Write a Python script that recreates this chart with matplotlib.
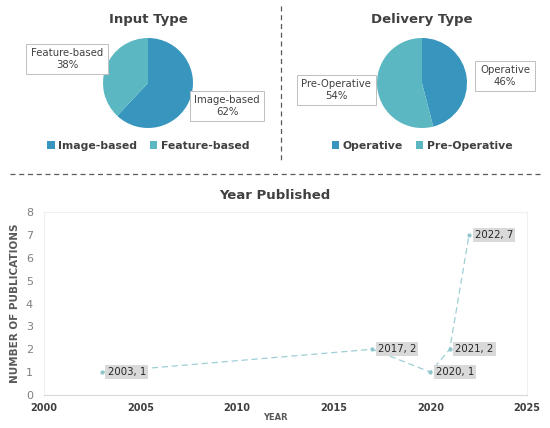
import numpy as np
import matplotlib
matplotlib.use('Agg')
import matplotlib.pyplot as plt
from matplotlib.lines import Line2D

# data
input_labels = ['Image-based', 'Feature-based']
input_share = [62, 38]
delivery_labels = ['Operative', 'Pre-Operative']
delivery_share = [46, 54]
years = [2003, 2017, 2020, 2021, 2022]
pubs = [1, 2, 1, 2, 7]

dark = '#3896BE'
light = '#5BB7C1'
W, H = 550, 428

plt.rcParams['font.family'] = ['DejaVu Sans']
fig = plt.figure(figsize=(5.5, 4.28), dpi=100)


def px(x, y):
    return x / W, 1 - y / H


def pie_axes(cx, cy, r):
    return fig.add_axes([(cx - r) / W, (H - cy - r) / H, 2 * r / W, 2 * r / H])


def box_label(x, y, s):
    fig.text(*px(x, y), s, ha='center', va='center', fontsize=7.3, color='#404040',
             linespacing=1.2,
             bbox=dict(boxstyle='square,pad=0.45', fc='white', ec='#bfbfbf', lw=0.7))


def draw_pie(ax, share):
    wedges, _ = ax.pie(share, colors=[dark, light], startangle=90, counterclock=False,
                       wedgeprops=dict(linewidth=0))
    ax.set_xlim(-1, 1)
    ax.set_ylim(-1, 1)
    ax.set_aspect('equal')
    return wedges


# Input Type pie
ax1 = pie_axes(148, 83, 45)
w1 = draw_pie(ax1, input_share)
fig.text(*px(148, 20), 'Input Type', ha='center', va='center', fontsize=9.5,
         fontweight='bold', color='#404040')
box_label(67, 59, f'{input_labels[1]}\n{input_share[1]}%')
box_label(227, 106, f'{input_labels[0]}\n{input_share[0]}%')
fig.legend(w1, input_labels, loc='center', bbox_to_anchor=px(148, 146), ncol=2,
           frameon=False, handlelength=0.7, handleheight=0.7, labelcolor='#404040',
           handletextpad=0.3, columnspacing=1.2, prop=dict(weight='bold', size=7.8))

# Delivery Type pie
ax2 = pie_axes(422, 83, 45)
w2 = draw_pie(ax2, delivery_share)
fig.text(*px(422, 20), 'Delivery Type', ha='center', va='center', fontsize=9.5,
         fontweight='bold', color='#404040')
box_label(336, 90, f'{delivery_labels[1]}\n{delivery_share[1]}%')
box_label(505, 76, f'{delivery_labels[0]}\n{delivery_share[0]}%')
fig.legend(w2, delivery_labels, loc='center', bbox_to_anchor=px(422, 146), ncol=2,
           frameon=False, handlelength=0.7, handleheight=0.7, labelcolor='#404040',
           handletextpad=0.3, columnspacing=1.2, prop=dict(weight='bold', size=7.8))

# separators
fig.add_artist(Line2D([281 / W, 281 / W], [1 - 6 / H, 1 - 160 / H], color='#595959',
                      lw=0.9, ls=(0, (4, 3))))
fig.add_artist(Line2D([10 / W, 540 / W], [1 - 174 / H, 1 - 174 / H], color='#595959',
                      lw=0.9, ls=(0, (4, 3))))

# Year Published
ax3 = fig.add_axes([44 / W, 1 - 395 / H, (527 - 44) / W, (395 - 212) / H])
ax3.plot(years, pubs, ls=(0, (5, 3)), color='#9fcfd6', lw=0.9, marker='o', ms=2,
         mfc='#8fc5cc', mec='#8fc5cc')
for x, y in zip(years, pubs):
    ax3.annotate(f'{x}, {y}', (x, y), xytext=(4, 0), textcoords='offset points',
                 ha='left', va='center', fontsize=7.3, color='#262626',
                 bbox=dict(boxstyle='square,pad=0.2', fc='#d9d9d9', ec='none'))
ax3.set_xlim(2000, 2025)
ax3.set_ylim(0, 8)
ax3.set_xticks(range(2000, 2026, 5))
ax3.set_yticks(range(0, 9))
ax3.tick_params(length=0)
ax3.tick_params(axis='x', labelsize=7, labelcolor='#404040', pad=6)
ax3.tick_params(axis='y', labelsize=8, labelcolor='#7f7f7f', pad=8)
for lbl in ax3.get_xticklabels():
    lbl.set_fontweight('bold')
for s in ['top', 'right', 'left']:
    ax3.spines[s].set_color('#f0f0f0')
ax3.spines['bottom'].set_color('#d9d9d9')
ax3.set_ylabel('NUMBER OF PUBLICATIONS', fontsize=7.5, fontweight='bold',
               color='#595959', labelpad=4)
fig.text(*px(275, 418), 'YEAR', ha='center', va='center', fontsize=6,
         fontweight='bold', color='#595959')
fig.text(*px(275, 196), 'Year Published', ha='center', va='center', fontsize=9.5,
         fontweight='bold', color='#404040')

fig.savefig('out.png', dpi=100)
